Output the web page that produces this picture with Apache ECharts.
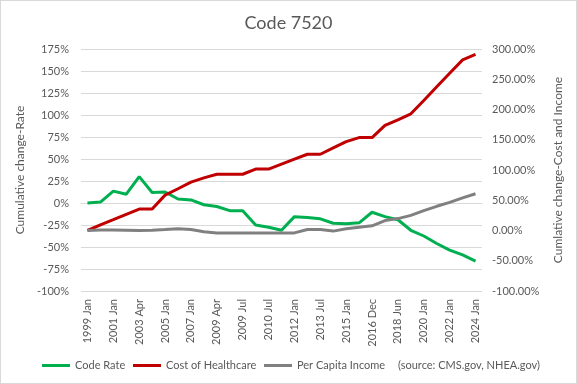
<!DOCTYPE html>
<html>
<head>
<meta charset="utf-8">
<script src="https://cdn.jsdelivr.net/npm/echarts@6/dist/echarts.min.js"></script>
<style>
  html, body { margin: 0; padding: 0; background: #fff; }
  #chart { width: 577px; height: 384px; box-sizing: border-box; border: 1px solid #d9d9d9; }
</style>
</head>
<body>
<div id="chart"></div>
<script>
const categories = ['1999 Jan','2000 Jan','2001 Jan','2002 Jan','2003 Apr','2004 Jan','2005 Jan','2006 Jan','2007 Jan','2008 Jan',
  '2009 Apr','2009 May','2009 Jul','2010 Jan','2010 Jul','2011 Jan','2012 Jan','2012 Jul','2013 Jul','2014 Jan',
  '2015 Jan','2016 Jan','2016 Dec','2017 Jul','2018 Jun','2019 Jan','2020 Jan','2021 Jan','2022 Jan','2023 Jan','2024 Jan'];
const codeRate = [0, 1, 13.5, 10, 30, 12, 12.5, 4.5, 3.5, -2, -4, -8.7, -8.7, -25, -27.5, -31, -15.5, -16.5, -18, -23,
  -23.5, -22.5, -10.5, -15.5, -19, -31, -37.5, -46, -53.5, -59, -66];
const costHealthcare = [0, 9.3, 18, 26.8, 35.5, 35.5, 58.5, 69, 80, 87, 93, 93, 93, 101.6, 101.6, 109.8, 118, 126, 126, 136.6,
  147, 153.6, 153.6, 173.8, 183, 192.9, 214.8, 237.7, 260, 282, 291];
const perCapitaIncome = [0, 1, 1, 0.5, 0, 0.5, 1.6, 2.8, 1.6, -2, -4, -4, -4, -4, -4, -4, -4, 1.6, 1.6, -1,
  3, 5.5, 7.7, 16.4, 19.7, 25, 32.8, 40, 46.4, 54, 60.7];
const leftTicks = { min: -100, max: 175, interval: 25 };
const rightTicks = { min: -100, max: 300, interval: 50 };

const FONT = 'Lato, "Open Sans", sans-serif';
const TXT = '#595959';
const legendText = { fontFamily: FONT, fontSize: 11, color: TXT };
function legendAt(left, name) {
  return { left: left, top: 359, padding: 0, itemWidth: 28, itemHeight: 3, icon: 'rect', textStyle: legendText, data: [name], selectedMode: false };
}
const chart = echarts.init(document.getElementById('chart'));
chart.setOption({
  backgroundColor: '#fff',
  animation: false,
  textStyle: { fontFamily: FONT },
  title: {
    text: 'Code 7520', left: 'center', top: 8,
    textStyle: { fontFamily: FONT, fontSize: 18, fontWeight: 'normal', color: TXT }
  },
  grid: { left: 80, right: 94, top: 48, bottom: 92 },
  legend: [legendAt(41, 'Code Rate'), legendAt(132, 'Cost of Healthcare'), legendAt(263, 'Per Capita Income')],
  graphic: [{
    type: 'text', left: 397, top: 359,
    style: { text: '(source: CMS.gov, NHEA.gov)', font: '11px ' + FONT, fill: TXT }
  }],
  xAxis: {
    type: 'category', data: categories, boundaryGap: true,
    axisLine: { show: true, lineStyle: { color: '#d9d9d9' } },
    axisTick: { show: false },
    axisLabel: { interval: 1, rotate: 90, color: TXT, fontSize: 11, fontFamily: FONT, margin: 8 }
  },
  yAxis: [{
    type: 'value', min: leftTicks.min, max: leftTicks.max, interval: leftTicks.interval,
    name: 'Cumulative change-Rate', nameLocation: 'middle', nameGap: 52, nameRotate: 90,
    nameTextStyle: { color: TXT, fontSize: 12, fontFamily: FONT },
    axisLabel: { formatter: '{value}%', color: TXT, fontSize: 11, fontFamily: FONT, margin: 12 },
    axisLine: { show: false }, axisTick: { show: false },
    splitLine: { lineStyle: { color: '#d9d9d9' } }
  }, {
    type: 'value', min: rightTicks.min, max: rightTicks.max, interval: rightTicks.interval,
    name: 'Cumlative change-Cost and Income', nameLocation: 'middle', nameGap: 70, nameRotate: 90,
    nameTextStyle: { color: TXT, fontSize: 12, fontFamily: FONT },
    axisLabel: { formatter: v => v.toFixed(2) + '%', color: TXT, fontSize: 11, fontFamily: FONT, margin: 10 },
    axisLine: { show: false }, axisTick: { show: false },
    splitLine: { show: false }
  }],
  series: [{
    name: 'Code Rate', type: 'line', yAxisIndex: 0, data: codeRate, symbol: 'none',
    itemStyle: { color: '#00B050' }, lineStyle: { color: '#00B050', width: 3 }
  }, {
    name: 'Cost of Healthcare', type: 'line', yAxisIndex: 1, data: costHealthcare, symbol: 'none',
    itemStyle: { color: '#C00000' }, lineStyle: { color: '#C00000', width: 3 }
  }, {
    name: 'Per Capita Income', type: 'line', yAxisIndex: 1, data: perCapitaIncome, symbol: 'none',
    itemStyle: { color: '#808080' }, lineStyle: { color: '#808080', width: 3 }
  }]
});
</script>
</body>
</html>
